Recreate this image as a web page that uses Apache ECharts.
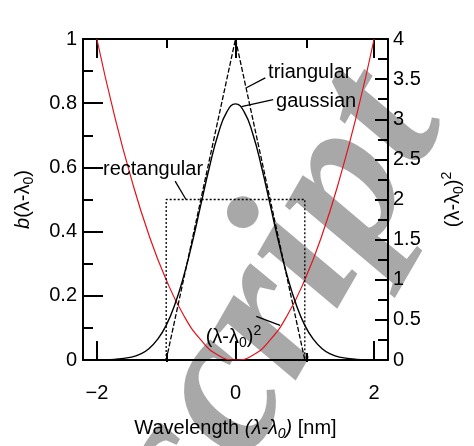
<!DOCTYPE html>
<html>
<head>
<meta charset="utf-8">
<script src="https://cdn.jsdelivr.net/npm/echarts@6/dist/echarts.min.js"></script>
<style>
html, body { margin: 0; padding: 0; background: #fff; }
#main { width: 474px; height: 446px; }
</style>
</head>
<body>
<div id="main"></div>
<script>
// profile curves (left axis)
var gaussX = [-2.2, -2, -1.75, -1.5, -1.375, -1.25, -1.125, -1, -0.875, -0.75, -0.625, -0.5, -0.375, -0.25, -0.125,
    0, 0.125, 0.25, 0.375, 0.5, 0.625, 0.75, 0.875, 1, 1.125, 1.25, 1.375, 1.5, 1.75, 2, 2.2];
var gaussY = [0, 0, 0.002, 0.009, 0.018, 0.035, 0.064, 0.108, 0.173, 0.259, 0.365, 0.484, 0.602, 0.704, 0.773,
    0.798, 0.773, 0.704, 0.602, 0.484, 0.365, 0.259, 0.173, 0.108, 0.064, 0.035, 0.018, 0.009, 0.002, 0, 0];
var triX = [-1, 0, 1];
var triY = [0, 1, 0];
var rectX = [-1, -1, 1, 1];
var rectY = [0, 0.5, 0.5, 0];
// (lambda - lambda0)^2 (right axis)
var parabX = [-2, -1.75, -1.5, -1.25, -1, -0.75, -0.5, -0.25, 0, 0.25, 0.5, 0.75, 1, 1.25, 1.5, 1.75, 2];
var parabY = [4, 3.06, 2.25, 1.56, 1, 0.56, 0.25, 0.06, 0, 0.06, 0.25, 0.56, 1, 1.56, 2.25, 3.06, 4];
// x ticks
var xLongTicks = [-2, 0, 2];
var xShortTicks = [-1, 1];

var FONT = '"Liberation Sans", Arial, sans-serif';

function pairs(xs, ys)
{
    var out = [];
    for (var i = 0; i < xs.length; i++)
        out.push([xs[i], ys[i]]);
    return out;
}

var rich = {
    n: {fontSize: 20, fontFamily: FONT, color: '#000', lineHeight: 26, verticalAlign: 'middle'},
    it: {fontSize: 20, fontFamily: FONT, fontStyle: 'italic', color: '#000', lineHeight: 26, verticalAlign: 'middle'},
    sub: {fontSize: 14, fontFamily: FONT, color: '#000', lineHeight: 14, verticalAlign: 'bottom'},
    itsub: {fontSize: 14, fontFamily: FONT, fontStyle: 'italic', color: '#000', lineHeight: 14, verticalAlign: 'bottom'},
    sup: {fontSize: 14, fontFamily: FONT, color: '#000', lineHeight: 14, verticalAlign: 'top'}
};

var black = {color: '#000', width: 2};
var gridBox = {left: 83, right: 84, top: 39, bottom: 84};

function xAx(grid, pos, ticks, len, labels, line)
{
    return {
        type: 'value', gridIndex: grid, position: pos, min: -2.2, max: 2.2,
        axisLine: {show: line, onZero: false, lineStyle: black},
        axisTick: {show: true, inside: true, length: len, lineStyle: black, customValues: ticks},
        axisLabel: {
            show: labels, customValues: ticks, margin: 23, fontSize: 20, fontFamily: FONT, color: '#000',
            formatter: function (v) { return String(v).replace('-', '\u2212'); }
        },
        splitLine: {show: false}
    };
}

var chart = echarts.init(document.getElementById('main'));

var option = {
    backgroundColor: '#fff',
    animation: false,
    grid: [gridBox, gridBox],
    xAxis: [
        (function () {
            var a = xAx(0, 'bottom', xLongTicks, 19, true, true);
            a.name = 'Wavelength {it|(λ-λ}{itsub|0}{it|)} [nm]';
            a.nameLocation = 'middle';
            a.nameGap = 55;
            a.nameTextStyle = {fontSize: 20, fontFamily: FONT, color: '#000', rich: rich};
            return a;
        })(),
        xAx(0, 'top', xLongTicks, 19, false, true),
        xAx(1, 'bottom', xShortTicks, 9, false, false),
        xAx(1, 'top', xShortTicks, 9, false, false)
    ],
    yAxis: [
        {
            type: 'value', gridIndex: 0, position: 'left', min: 0, max: 1, interval: 0.2,
            name: '{it|b}{n|(λ-λ}{sub|0}{n|)}', nameLocation: 'middle', nameGap: 47, nameRotate: 90,
            nameTextStyle: {fontSize: 20, fontFamily: FONT, color: '#000', rich: rich},
            axisLine: {show: true, onZero: false, lineStyle: black},
            axisTick: {inside: true, length: 20, lineStyle: black},
            minorTick: {show: true, splitNumber: 2, length: 10, lineStyle: black},
            axisLabel: {margin: 6, fontSize: 20, fontFamily: FONT, color: '#000'},
            splitLine: {show: false}
        },
        {
            type: 'value', gridIndex: 0, position: 'right', min: 0, max: 4, interval: 0.5,
            name: '{n|(λ-λ}{sub|0}{n|)}{sup|2}', nameLocation: 'middle', nameGap: 52, nameRotate: 90,
            nameTextStyle: {fontSize: 20, fontFamily: FONT, color: '#000', rich: rich},
            axisLine: {show: true, onZero: false, lineStyle: black},
            axisTick: {inside: true, length: 13, lineStyle: black},
            minorTick: {show: true, splitNumber: 2, length: 10, lineStyle: black},
            axisLabel: {margin: 5, fontSize: 20, fontFamily: FONT, color: '#000'},
            splitLine: {show: false}
        },
        {type: 'value', gridIndex: 1, min: 0, max: 1, show: false}
    ],
    series: [
        {
            name: 'parabola', type: 'line', xAxisIndex: 0, yAxisIndex: 1, data: pairs(parabX, parabY),
            showSymbol: false, smooth: true, lineStyle: {color: '#e3121b', width: 1.2}
        },
        {
            name: 'rectangular', type: 'line', xAxisIndex: 0, yAxisIndex: 0, data: pairs(rectX, rectY),
            showSymbol: false, lineStyle: {color: '#000', width: 1.3, type: [2, 2]}
        },
        {
            name: 'triangular', type: 'line', xAxisIndex: 0, yAxisIndex: 0, data: pairs(triX, triY),
            showSymbol: false, lineStyle: {color: '#000', width: 1.3, type: [5, 2]}
        },
        {
            name: 'gaussian', type: 'line', xAxisIndex: 0, yAxisIndex: 0, data: pairs(gaussX, gaussY),
            showSymbol: false, smooth: true, lineStyle: {color: '#000', width: 1.4}
        }
    ]
};
chart.setOption(option);

// annotations, anchored in data coordinates of the left axis
function px(p)
{
    return chart.convertToPixel({xAxisIndex: 0, yAxisIndex: 0}, p);
}

function leader(a, b)
{
    var p1 = px(a), p2 = px(b);
    return {
        type: 'line', z: 50,
        shape: {x1: p1[0], y1: p1[1], x2: p2[0], y2: p2[1]},
        style: {stroke: '#000', lineWidth: 1.3}
    };
}

function label(at, text, align)
{
    var p = px(at);
    return {
        type: 'text', z: 50, x: p[0], y: p[1],
        style: {text: text, rich: rich, font: '20px ' + FONT, fill: '#000', align: align, verticalAlign: 'middle'}
    };
}

chart.setOption({
    graphic: [
        // grey "script" watermark of the source page
        {
            type: 'text', z: -5, x: 250, y: 561, rotation: Math.PI / 3,
            style: {text: 'script', font: 'italic bold 210px "Liberation Serif", serif', fill: '#a8a8a8',
                align: 'left', verticalAlign: 'bottom'}
        },
        leader([0.157, 0.848], [0.43, 0.879]),
        label([0.47, 0.895], '{n|triangular}', 'left'),
        leader([0.086, 0.789], [0.543, 0.811]),
        label([0.586, 0.805], '{n|gaussian}', 'left'),
        leader([-0.871, 0.557], [-0.714, 0.5]),
        label([-1.19, 0.594], '{n|rectangular}', 'center'),
        leader([0.3, 0.136], [0.643, 0.108]),
        label([-0.03, 0.07], '{n|(λ-λ}{sub|0}{n|)}{sup|2}', 'center')
    ]
});
</script>
</body>
</html>
